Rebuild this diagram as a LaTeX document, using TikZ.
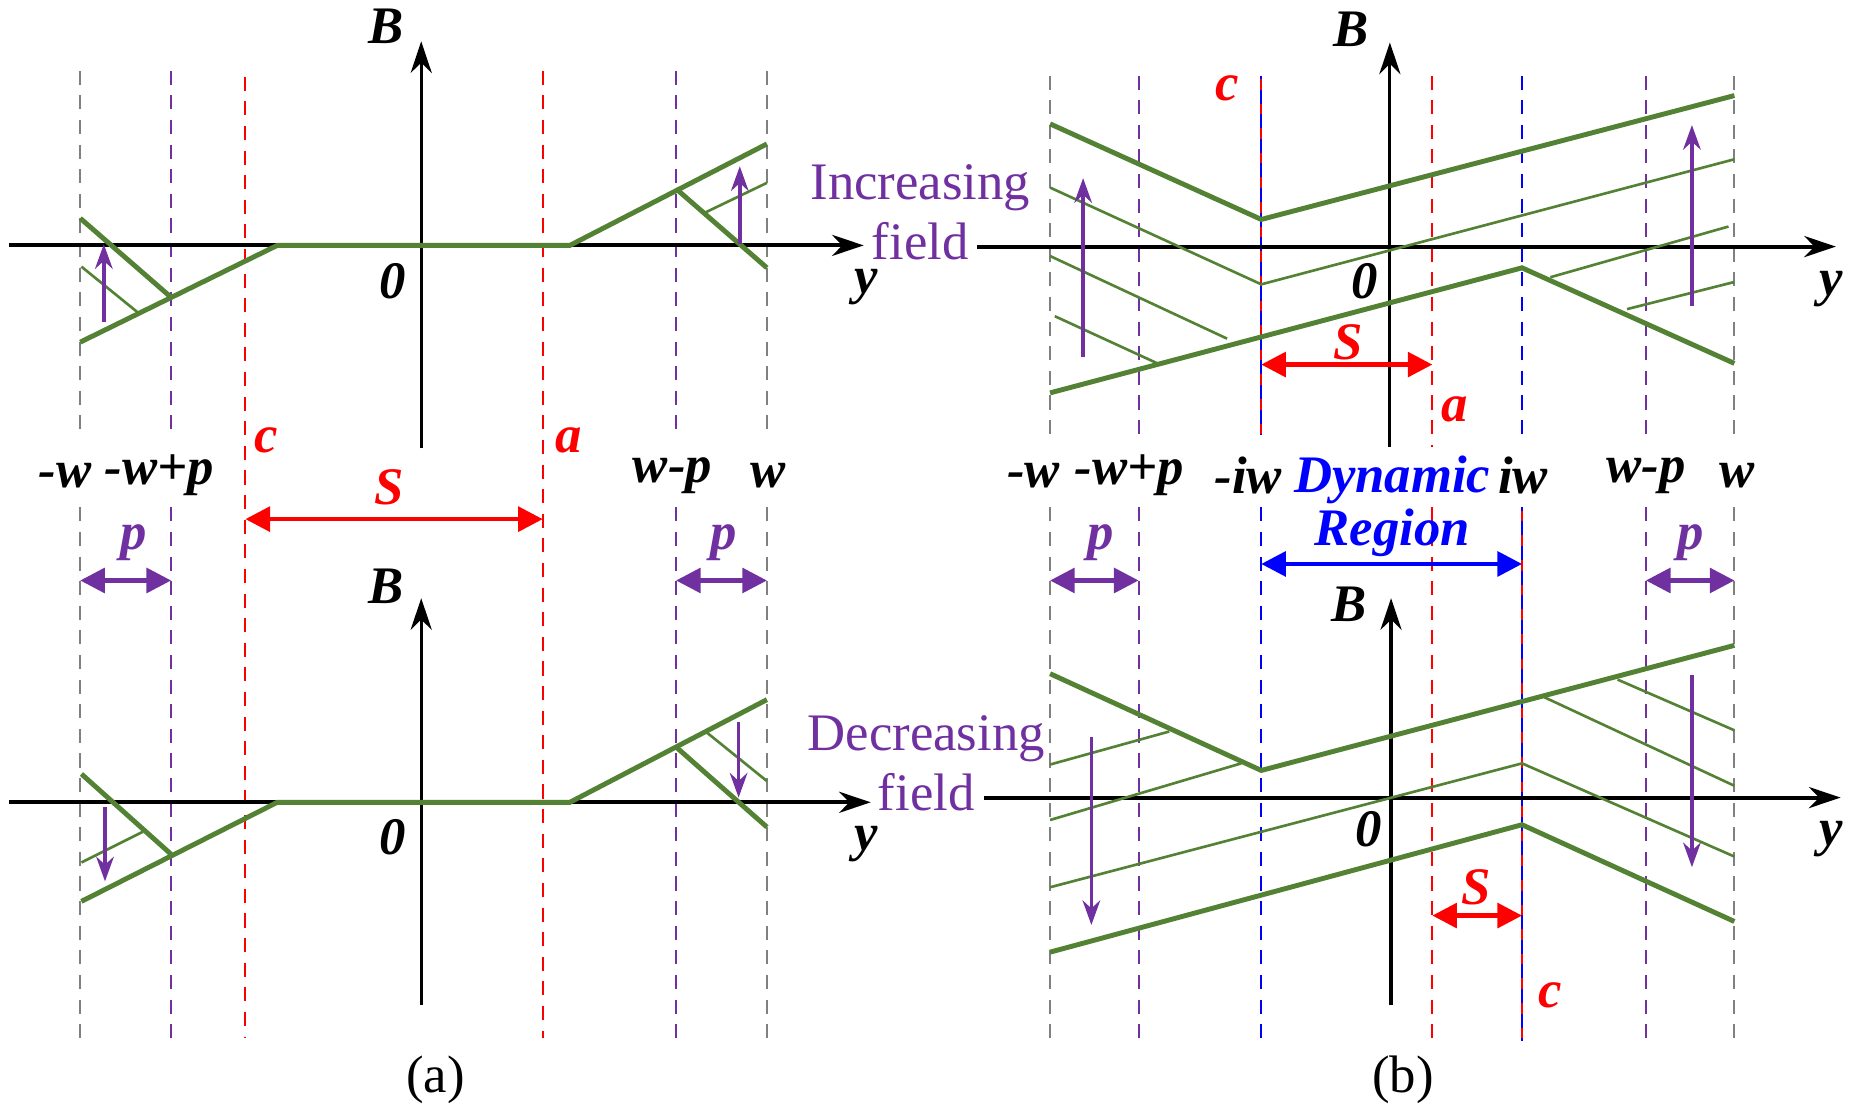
\documentclass[tikz,border=0pt]{standalone}
\usepackage{fontspec}
\setmainfont{Liberation Serif}[BoldItalicFont={Liberation Serif Bold Italic}]
\usetikzlibrary{arrows.meta,positioning}
\definecolor{fieldgreen}{RGB}{84,130,53}
\definecolor{fieldpurple}{RGB}{112,48,160}
\begin{document}
\begin{tikzpicture}
[x=0.0118cm, y=-0.0118cm, >={Stealth[length=9pt,width=6pt]},
axis/.style={black, line width=1.1pt, ->},
thick field/.style={fieldgreen, line width=1.4pt},
thin field/.style={fieldgreen, line width=0.75pt},
grid/.style={dashed, line width=0.6pt, dash pattern=on 4pt off 3pt},
sweep/.style={fieldpurple, line width=1pt, -{Stealth[length=7pt,width=5pt]}},
span/.style={line width=1.2pt, {Triangle[length=7pt,width=7pt]}-{Triangle[length=7pt,width=7pt]}},
lbl/.style={font=\fontsize{15}{15}\selectfont\bfseries\itshape, inner sep=1pt},
note/.style={font=\fontsize{15}{17}\selectfont, text=fieldpurple, align=center},
caption/.style={font=\fontsize{15}{15}\selectfont}]
\useasboundingbox (0,0) rectangle (1568,940);

% ---- (a) guide lines
\foreach \x/\c in {68/gray,145/fieldpurple,573/fieldpurple,650/gray}{
  \draw[grid, \c] (\x,60) -- (\x,370);
  \draw[grid, \c] (\x,430) -- (\x,880);
}
\draw[grid, red] (208,65) -- (208,880);
\draw[grid, red] (460,60) -- (460,880);

% ---- (a) increasing field
\draw[axis] (8,208) -- (732,208);
\draw[axis, line width=0.9pt] (357,380) -- (357,35);
\node[lbl] (Ba) at (327,22) {B};
\node[lbl] (Oa) at (333,238) {0};
\node[lbl] (ya) at (734,243) {y};
\draw[thick field] (68,290) -- (235,208) -- (483,208) -- (650,122);
\draw[thick field] (68,185) -- (145,252);
\draw[thick field] (573,160) -- (650,227);
\draw[thin field] (69,226) -- (117,265);
\draw[thin field] (598,180) -- (650,155);
\coordinate (ua1) at (88,273); \coordinate (ua2) at (88,207);
\draw[sweep] (ua1) -- (ua2);
\coordinate (ub1) at (627,207); \coordinate (ub2) at (627,141);
\draw[sweep] (ub1) -- (ub2);

% ---- (a) labels
\node[lbl] (mw) at (55,403) {-w};
\node[lbl] (mwp) at (135,403) {-w+p};
\node[lbl] (wp) at (570,403) {w-p};
\node[lbl] (w) at (651,403) {w};
\node[lbl, text=red] (ca) at (226,373) {c};
\node[lbl, text=red] (aa) at (482,373) {a};
\node[lbl, text=red] (Sa) at (330,413) {S};
\coordinate (sl) at (208,440); \coordinate (sr) at (460,440);
\draw[span, red] (sl) -- (sr);
\node[lbl, text=fieldpurple] (pa1) at (113,460) {p};
\node[lbl, text=fieldpurple] (pa2) at (613,460) {p};
\coordinate (pl1) at (68,492); \coordinate (pr1) at (145,492);
\draw[span, fieldpurple] (pl1) -- (pr1);
\coordinate (pl2) at (573,492); \coordinate (pr2) at (650,492);
\draw[span, fieldpurple] (pl2) -- (pr2);

% ---- (a) decreasing field
\draw[axis] (8,680) -- (738,680);
\draw[axis, line width=0.9pt] (357,852) -- (357,507);
\node[lbl] (Ba2) at (327,497) {B};
\node[lbl] (Oa2) at (333,710) {0};
\node[lbl] (ya2) at (734,715) {y};
\draw[thick field] (69,764) -- (235,680) -- (483,680) -- (650,593);
\draw[thick field] (69,656) -- (145,724);
\draw[thick field] (574,634) -- (650,701);
\draw[thin field] (69,731) -- (121,705);
\draw[thin field] (598,620) -- (650,662);
\coordinate (da1) at (89,684); \coordinate (da2) at (89,747);
\draw[sweep] (da1) -- (da2);
\coordinate (db1) at (626,612); \coordinate (db2) at (626,676);
\draw[sweep] (db1) -- (db2);
\node[caption] (capa) at (369,915) {(a)};

% ---- (b) guide lines
\foreach \x/\c in {890/gray,965/fieldpurple,1395/fieldpurple,1470/gray}{
  \draw[grid, \c] (\x,64) -- (\x,368);
  \draw[grid, \c] (\x,430) -- (\x,882);
}
\draw[grid, red] (1069,64) -- (1069,368);
\draw[grid, blue, dash phase=3pt] (1069,64) -- (1069,368);
\draw[grid, blue] (1069,430) -- (1069,882);
\draw[grid, red] (1214,64) -- (1214,379);
\draw[grid, red] (1214,430) -- (1214,882);
\draw[grid, blue] (1290,64) -- (1290,368);
\draw[grid, red] (1290,430) -- (1290,882);
\draw[grid, blue, dash phase=3pt] (1290,430) -- (1290,882);

% ---- (b) increasing field
\draw[axis] (828,209) -- (1556,209);
\draw[axis, line width=0.9pt] (1178,379) -- (1178,36);
\node[lbl] (Bb) at (1145,25) {B};
\node[lbl] (Ob) at (1157,238) {0};
\node[lbl] (yb) at (1552,245) {y};
\node[note] (inc) at (780,180) {Increasing\\field};
\draw[thick field] (890,105) -- (1069,186) -- (1470,81);
\draw[thin field] (890,159) -- (1069,241) -- (1470,135);
\draw[thin field] (890,217) -- (1040,287);
\draw[thin field] (894,268) -- (981,308);
\draw[thick field] (890,333) -- (1290,227) -- (1470,308);
\draw[thin field] (1314,235) -- (1465,192);
\draw[thin field] (1379,262) -- (1470,239);
\coordinate (ub3) at (918,303); \coordinate (ub4) at (918,151);
\draw[sweep] (ub3) -- (ub4);
\coordinate (ub5) at (1434,259); \coordinate (ub6) at (1434,106);
\draw[sweep] (ub5) -- (ub6);
\node[lbl, text=red] (cb) at (1040,75) {c};
\node[lbl, text=red] (ab) at (1233,347) {a};
\node[lbl, text=red] (Sb) at (1143,290) {S};
\coordinate (sl2) at (1069,309); \coordinate (sr2) at (1214,309);
\draw[span, red] (sl2) -- (sr2);

% ---- (b) labels
\node[lbl] (mwb) at (876,403) {-w};
\node[lbl] (mwpb) at (957,403) {-w+p};
\node[lbl] (miw) at (1058,403) {-iw};
\node[lbl] (iw) at (1291,403) {iw};
\node[lbl] (wpb) at (1395,403) {w-p};
\node[lbl] (wb) at (1472,403) {w};
\node[lbl, text=blue, align=center] (dyn) at (1180,429) {Dynamic\\Region};
\coordinate (dl) at (1069,478); \coordinate (dr) at (1290,478);
\draw[span, blue] (dl) -- (dr);
\node[lbl, text=fieldpurple] (pb1) at (933,460) {p};
\node[lbl, text=fieldpurple] (pb2) at (1433,460) {p};
\coordinate (pl3) at (890,492); \coordinate (pr3) at (965,492);
\draw[span, fieldpurple] (pl3) -- (pr3);
\coordinate (pl4) at (1395,492); \coordinate (pr4) at (1470,492);
\draw[span, fieldpurple] (pl4) -- (pr4);

% ---- (b) decreasing field
\draw[axis] (834,676) -- (1560,676);
\draw[axis, line width=0.9pt] (1179,852) -- (1179,507);
\node[lbl] (Bb2) at (1143,512) {B};
\node[lbl] (Ob2) at (1160,703) {0};
\node[lbl] (yb2) at (1552,711) {y};
\node[note] (dec) at (785,647) {Decreasing\\field};
\draw[thick field] (890,571) -- (1069,653) -- (1470,547);
\draw[thin field] (890,648) -- (991,620);
\draw[thin field] (890,695) -- (1052,647);
\draw[thin field] (890,752) -- (1290,647) -- (1470,726);
\draw[thick field] (890,807) -- (1290,699) -- (1470,781);
\draw[thin field] (1309,591) -- (1470,666);
\draw[thin field] (1371,576) -- (1470,619);
\coordinate (db3) at (925,625); \coordinate (db4) at (925,784);
\draw[sweep] (db3) -- (db4);
\coordinate (db5) at (1434,572); \coordinate (db6) at (1434,735);
\draw[sweep] (db5) -- (db6);
\node[lbl, text=red] (Sb2) at (1251,752) {S};
\coordinate (sl3) at (1214,776); \coordinate (sr3) at (1290,776);
\draw[span, red] (sl3) -- (sr3);
\node[lbl, text=red] (cb2) at (1314,844) {c};
\node[caption] (capb) at (1189,915) {(b)};
\end{tikzpicture}
\end{document}
